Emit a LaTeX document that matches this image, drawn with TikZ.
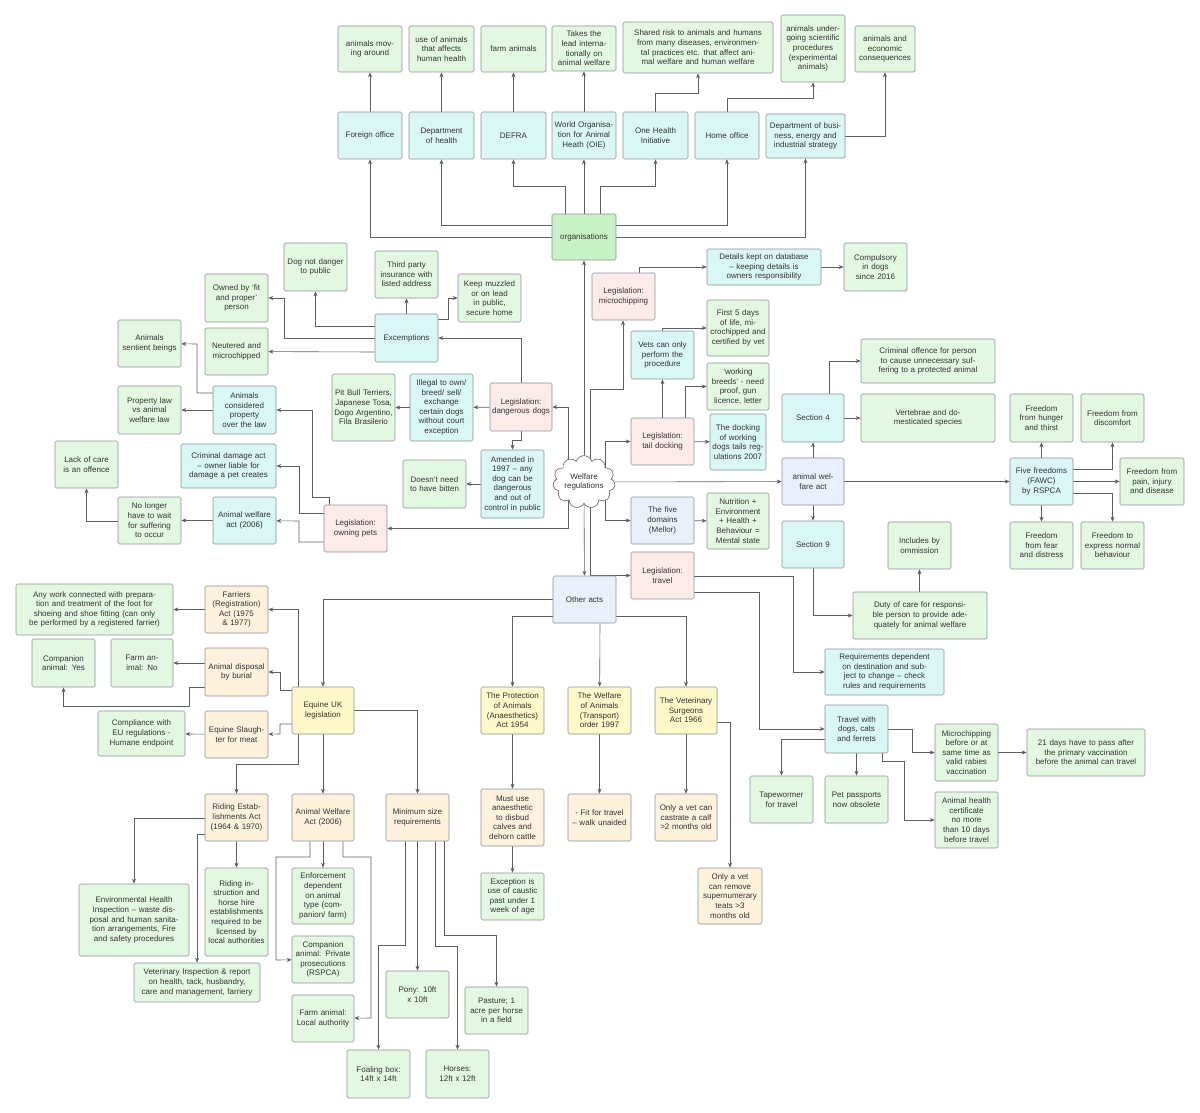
\documentclass[tikz,border=0pt]{standalone}
\usepackage{fontspec}
\setmainfont{Liberation Sans}
\usetikzlibrary{arrows.meta,shapes.symbols}
\pgfdeclarelayer{bg}\pgfsetlayers{bg,main}
\definecolor{gr}{HTML}{E3F8E1}
\definecolor{cy}{HTML}{D9F7F4}
\definecolor{pk}{HTML}{FDEBEA}
\definecolor{or}{HTML}{FEF2DD}
\definecolor{ye}{HTML}{FFF8C8}
\definecolor{bl}{HTML}{E9F0FC}
\definecolor{og}{HTML}{C6F2C5}
\definecolor{bd}{HTML}{8A9096}
\definecolor{ln}{HTML}{5A5F66}
\definecolor{tx}{HTML}{333333}
\tikzset{
 box/.style={draw=bd,line width=0.6pt,rounded corners=1.5pt,inner sep=0pt,align=center,
   font=\fontsize{8}{9.6}\selectfont,text=tx},
 a/.style={draw=ln,line width=0.6pt,-{Stealth[length=5pt,width=4pt]}},
}
\newcommand\nd[7]{%
 \pgfmathsetmacro\ndw{#4-#2}\pgfmathsetmacro\ndh{#5-#3}\pgfmathsetmacro\ndt{#4-#2-4}%
 \node[box,fill=#6,minimum width=\ndw pt,minimum height=\ndh pt,text width=\ndt pt] (#1) at ({(#2+#4)/2},{(#3+#5)/2}) {#7};}
\begin{document}
\begin{tikzpicture}[x=1pt,y=-1pt]
\useasboundingbox (0,0) rectangle (1200,1113);
% top
\nd{t1}{338}{26}{402}{72}{gr}{animals moving around}
\nd{t2}{409}{26}{474}{72}{gr}{use of animals that affects human health}
\nd{t3}{481}{26}{546}{72}{gr}{farm animals}
\nd{t4}{552}{26}{616}{71}{gr}{Takes the lead internationally on animal welfare}
\nd{t5}{623}{22}{773}{73}{gr}{Shared risk to animals and humans from many diseases, environmental practices etc. that affect animal welfare and human welfare}
\nd{t6}{781}{15}{845}{82}{gr}{animals undergoing scientific procedures (experimental animals)}
\nd{t7}{855}{26}{915}{72}{gr}{animals and economic consequences}
\nd{fo}{338}{112}{402}{159}{cy}{Foreign office}
\nd{doh}{409}{112}{474}{159}{cy}{Department of health}
\nd{defra}{481}{112}{546}{159}{cy}{DEFRA}
\nd{oie}{552}{112}{616}{159}{cy}{World Organisation for Animal Heath (OIE)}
\nd{oh}{623}{112}{688}{159}{cy}{One Health Initiative}
\nd{ho}{695}{112}{759}{159}{cy}{Home office}
\nd{beis}{766}{114}{845}{158}{cy}{Department of business, energy and industrial strategy}
\nd{org}{552}{214}{616}{260}{og}{organisations}
\node[cloud,draw=ln,fill=white,line width=0.6pt,cloud puffs=11,aspect=1.3,minimum width=62pt,minimum height=50pt,inner sep=0pt,align=center,font=\fontsize{8}{9.6}\selectfont,text=tx] (wr) at (584,482) {Welfare\\regulations};
% left cluster
\nd{dnd}{284}{243}{347}{291}{gr}{Dog not danger to public}
\nd{tp}{375}{251}{438}{298}{gr}{Third party insurance with listed address}
\nd{km}{458}{274}{521}{322}{gr}{Keep muzzled or on lead in public, secure home}
\nd{ofp}{205}{274}{268}{322}{gr}{Owned by `fit and proper' person}
\nd{exc}{375}{314}{438}{362}{cy}{Excemptions}
\nd{neu}{205}{328}{268}{375}{gr}{Neutered and microchipped}
\nd{sent}{118}{320}{181}{367}{gr}{Animals sentient beings}
\nd{acp}{213}{386}{276}{434}{cy}{Animals considered property over the law}
\nd{plaw}{118}{386}{181}{434}{gr}{Property law vs animal welfare law}
\nd{pit}{332}{374}{395}{441}{gr}{Pit Bull Terriers, Japanese Tosa, Dogo Argentino, Fila Brasilerio}
\nd{ill}{410}{374}{473}{441}{cy}{Illegal to own/ breed/ sell/ exchange certain dogs without court exception}
\nd{dd}{490}{383}{552}{431}{pk}{Legislation: dangerous dogs}
\nd{lack}{55}{441}{118}{488}{gr}{Lack of care is an offence}
\nd{cda}{181}{444}{276}{488}{cy}{Criminal damage act – owner liable for damage a pet creates}
\nd{dnb}{403}{460}{466}{508}{gr}{Doesn't need to have bitten}
\nd{am}{481}{450}{544}{518}{cy}{Amended in 1997 – any dog can be dangerous and out of control in public}
\nd{nl}{118}{497}{181}{544}{gr}{No longer have to wait for suffering to occur}
\nd{awa6}{213}{497}{276}{544}{cy}{Animal welfare act (2006)}
\nd{op}{324}{505}{387}{552}{pk}{Legislation: owning pets}
% right cluster
\nd{mc}{592}{273}{655}{320}{pk}{Legislation: microchipping}
\nd{det}{707}{249}{821}{285}{cy}{Details kept on database – keeping details is owners responsibility}
\nd{comp}{844}{243}{907}{291}{gr}{Compulsory in dogs since 2016}
\nd{vets}{631}{331}{694}{379}{cy}{Vets can only perform the procedure}
\nd{f5}{707}{300}{769}{356}{gr}{First 5 days of life, microchipped and certified by vet}
\nd{wb}{707}{363}{769}{410}{gr}{`working breeds' - need proof, gun licence, letter}
\nd{dr}{710}{414}{766}{470}{cy}{The docking of working dogs tails regulations 2007}
\nd{td}{631}{418}{694}{465}{pk}{Legislation: tail docking}
\nd{s4}{782}{394}{844}{442}{cy}{Section 4}
\nd{co}{861}{339}{995}{383}{gr}{Criminal offence for person to cause unnecessary suffering to a protected animal}
\nd{vert}{861}{394}{995}{442}{gr}{Vertebrae and domesticated species}
\nd{awa}{782}{458}{844}{505}{bl}{animal welfare act}
\nd{s9}{782}{521}{844}{568}{cy}{Section 9}
\nd{fd}{631}{497}{694}{544}{bl}{The five domains (Mellor)}
\nd{nut}{707}{493}{769}{549}{gr}{Nutrition + Environment + Health + Behaviour = Mental state}
\nd{tr}{631}{552}{694}{599}{pk}{Legislation: travel}
\nd{oa}{553}{576}{616}{623}{bl}{Other acts}
\nd{inc}{888}{522}{951}{569}{gr}{Includes by ommission}
\nd{duty}{853}{592}{987}{639}{gr}{Duty of care for responsible person to provide adequately for animal welfare}
\nd{ff}{1010}{458}{1073}{505}{cy}{Five freedoms (FAWC) by RSPCA}
\nd{hun}{1010}{394}{1073}{442}{gr}{Freedom from hunger and thirst}
\nd{dis}{1081}{394}{1144}{442}{gr}{Freedom from discomfort}
\nd{pain}{1120}{458}{1184}{505}{gr}{Freedom from pain, injury and disease}
\nd{fear}{1010}{522}{1073}{569}{gr}{Freedom from fear and distress}
\nd{expr}{1081}{522}{1144}{569}{gr}{Freedom to express normal behaviour}
\nd{req}{825}{649}{944}{695}{cy}{Requirements dependent on destination and subject to change – check rules and requirements}
\nd{twd}{825}{705}{888}{753}{cy}{Travel with dogs, cats and ferrets}
\nd{tape}{750}{776}{813}{823}{gr}{Tapewormer for travel}
\nd{pp}{825}{776}{888}{823}{gr}{Pet passports now obsolete}
\nd{mb}{935}{724}{998}{781}{gr}{Microchipping before or at same time as valid rabies vaccination}
\nd{d21}{1027}{729}{1145}{776}{gr}{21 days have to pass after the primary vaccination before the animal can travel}
\nd{ah}{935}{792}{998}{848}{gr}{Animal health certificate no more than 10 days before travel}
% bottom
\nd{anyw}{16}{584}{173}{635}{gr}{Any work connected with preparation and treatment of the foot for shoeing and shoe fitting (can only be performed by a registered farrier)}
\nd{far}{205}{586}{268}{633}{or}{Farriers (Registration) Act (1975 \& 1977)}
\nd{cyes}{32}{639}{95}{687}{gr}{Companion animal: Yes}
\nd{fno}{111}{639}{173}{687}{gr}{Farm animal: No}
\nd{disp}{205}{648}{268}{696}{or}{Animal disposal by burial}
\nd{eq}{292}{687}{354}{734}{ye}{Equine UK legislation}
\nd{eu}{98}{711}{185}{756}{gr}{Compliance with EU regulations - Humane endpoint}
\nd{sl}{205}{711}{268}{758}{or}{Equine Slaughter for meat}
\nd{pa}{481}{687}{544}{734}{ye}{The Protection of Animals (Anaesthetics) Act 1954}
\nd{wt}{568}{687}{631}{734}{ye}{The Welfare of Animals (Transport) order 1997}
\nd{vs}{655}{687}{717}{734}{ye}{The Veterinary Surgeons Act 1966}
\nd{re}{205}{794}{268}{841}{or}{Riding Establishments Act (1964 \& 1970)}
\nd{awb}{292}{794}{354}{841}{or}{Animal Welfare Act (2006)}
\nd{ms}{386}{794}{449}{841}{or}{Minimum size requirements}
\nd{mu}{481}{789}{544}{846}{or}{Must use anaesthetic to disbud calves and dehorn cattle}
\nd{fit}{568}{794}{631}{841}{or}{- Fit for travel – walk unaided}
\nd{cas}{655}{794}{717}{841}{or}{Only a vet can castrate a calf >2 months old}
\nd{env}{79}{884}{189}{956}{gr}{Environmental Health Inspection – waste disposal and human sanitation arrangements, Fire and safety procedures}
\nd{ri}{205}{868}{268}{956}{gr}{Riding instruction and horse hire establishments required to be licensed by local authorities}
\nd{enf}{292}{868}{354}{924}{gr}{Enforcement dependent on animal type (companion/ farm)}
\nd{exq}{481}{873}{544}{920}{gr}{Exception is use of caustic past under 1 week of age}
\nd{rem}{698}{868}{762}{924}{or}{Only a vet can remove supernumerary teats >3 months old}
\nd{vi}{134}{963}{260}{1002}{gr}{Veterinary Inspection \& report on health, tack, husbandry, care and management, farriery}
\nd{cpriv}{292}{936}{354}{983}{gr}{Companion animal: Private prosecutions (RSPCA)}
\nd{flocal}{292}{995}{354}{1042}{gr}{Farm animal: Local authority}
\nd{pony}{386}{971}{449}{1018}{gr}{Pony: 10ft x 10ft}
\nd{past}{465}{987}{528}{1034}{gr}{Pasture; 1 acre per horse in a field}
\nd{foal}{347}{1050}{410}{1098}{gr}{Foaling box: 14ft x 14ft}
\nd{horses}{426}{1050}{489}{1098}{gr}{Horses: 12ft x 12ft}
\begin{pgfonlayer}{bg}
% organisations
\draw[a] (org.west|-0,237) -| (fo);
\draw[a] (org.west|-0,225) -| (doh);
\draw[a] (org.north-|565,0) -- (565,186) -| (defra);
\draw[a] (org) -- (oie);
\draw[a] (org.north-|600,0) -- (600,186) -| (oh);
\draw[a] (org.east|-0,225) -| (ho);
\draw[a] (org.east|-0,237) -| (beis);
\draw[a] (fo) -- (t1); \draw[a] (doh) -- (t2); \draw[a] (defra) -- (t3); \draw[a] (oie) -- (t4);
\draw[a] (oh.north) -- (655.5,93) -| (t5);
\draw[a] (ho.north) -- (727,98) -| (t6);
\draw[a] (beis.east|-0,136) -| (t7);
% cloud
\draw[a] (wr) -- (org);
\draw[a] (wr) -- (oa);
\draw[a] (568,482) |- (dd);
\draw[a] (568,482) |- (op);
\draw[a] (590,482) |- (623,389) -- (mc.south-|623,0);
\draw[a] (mc.north-|639,0) |- (det);
\draw[a] (det) -- (comp);
\draw[a] (605,482) |- (td);
\draw[a] (td) -- (vets);
\draw[a] (vets.north) |- (f5);
\draw[a] (td.north-|685,0) |- (wb);
\draw[a] (td) -- (dr);
\draw[a] (wr) -- (awa);
\draw[a] (605,482) |- (fd);
\draw[a] (fd) -- (nut);
\draw[a] (590,482) |- (tr);
\draw[a] (awa) -- (s4); \draw[a] (awa) -- (s9); \draw[a] (awa) -- (ff);
\draw[a] (s4.north-|829,0) |- (co);
\draw[a] (s4) -- (vert);
\draw[a] (s9) |- (duty);
\draw[a] (duty.north-|inc) -- (inc);
\draw[a] (ff) -- (hun); \draw[a] (ff) -- (fear); \draw[a] (ff) -- (pain);
\draw[a] (ff.east|-0,469) -| (dis);
\draw[a] (ff.east|-0,493) -| (expr);
\draw[a] (tr.east|-0,576) -| (793,672) -- (req);
\draw[a] (tr.east|-0,592) -| (759,729) -- (twd);
\draw[a] (twd.west|-0,739) -| (tape);
\draw[a] (twd) -- (pp);
\draw[a] (twd.east|-0,729) -- (912,729) |- (mb);
\draw[a] (mb) -- (d21);
\draw[a] (twd.south-|882,0) -- (882,761) -- (904,761) |- (ah);
% left
\draw[a] (exc.west|-0,326) -| (dnd);
\draw[a] (exc.west|-0,338) -| (284,298) -- (ofp);
\draw[a] (exc.west|-0,352) -- (neu);
\draw[a] (exc) -- (tp);
\draw[a] (exc.east|-0,319) -| (448,298) -- (km);
\draw[a] (dd.north-|521,0) |- (exc);
\draw[a] (dd) -- (ill);
\draw[a] (ill) -- (pit);
\draw[a] (dd.south-|521,0) -- (521,440) -| (am);
\draw[a] (am.west|-0,484) -- (dnb);
\draw[a] (op.north-|329,0) -- (329,497) -| (312,410) -- (acp);
\draw[a] (op.west|-0,513) -| (299,466) -- (cda);
\draw[a] (op.west|-0,542) -| (299,521) -- (awa6);
\draw[a] (awa6) -- (nl);
\draw[a] (nl.west|-0,521) -| (lack);
\draw[a] (acp) -- (plaw);
\draw[a] (acp.west|-0,393) -| (197,344) -- (sent);
% bottom
\draw[a] (oa.west|-0,599) -| (eq);
\draw[a] (oa.west|-0,616) -| (pa);
\draw[a] (oa.south-|600,0) -- (wt);
\draw[a] (oa.east|-0,616) -| (vs);
\draw[a] (pa) -- (mu); \draw[a] (mu) -- (exq);
\draw[a] (wt) -- (fit); \draw[a] (vs) -- (cas);
\draw[a] (vs.east|-0,722) -| (rem);
\draw[a] (eq.north-|298,0) |- (far);
\draw[a] (far) -- (anyw);
\draw[a] (eq.west|-0,690) -| (280,672) -- (disp);
\draw[a] (disp.west|-0,663) -- (fno);
\draw[a] (disp.west|-0,687) -| (189,706) -| (cyes);
\draw[a] (eq.west|-0,724) -| (280,734) -- (sl);
\draw[a] (sl) -- (eu);
\draw[a] (eq.south-|298,0) -- (298,764) -| (re);
\draw[a] (eq) -- (awb);
\draw[a] (eq.east|-0,710) -| (ms);
\draw[a] (re.west|-0,818) -| (env);
\draw[a] (re.west|-0,834) -| (vi);
\draw[a] (re) -- (ri);
\draw[a] (awb) -- (enf);
\draw[a] (awb.south-|310,0) -- (310,857) -| (276,960) -- (cpriv);
\draw[a] (awb.south-|343,0) -- (343,857) -| (371,1018) -- (flocal);
\draw[a] (ms.south-|405,0) -- (405,945) -| (foal);
\draw[a] (ms) -- (pony);
\draw[a] (ms.south-|435,0) -- (435,946) -| (horses);
\draw[a] (ms.south-|444,0) -- (444,935) -| (past);
\end{pgfonlayer}
\end{tikzpicture}
\end{document}
